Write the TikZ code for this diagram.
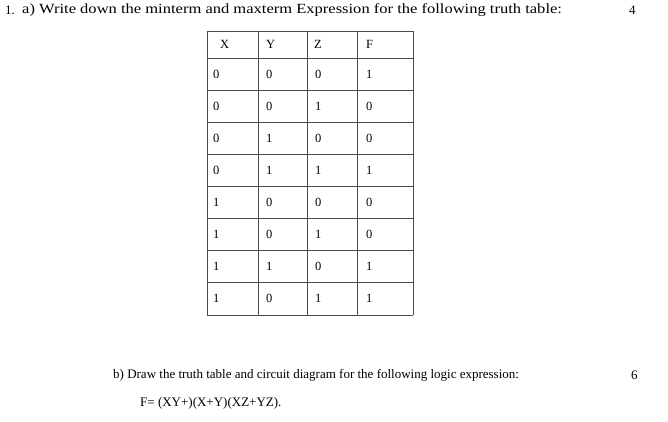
\documentclass[tikz,border=0pt]{standalone}
\usepackage{fontspec}
\setmainfont{Liberation Serif}
\begin{document}
\begin{tikzpicture}[x=1pt,y=-1pt,
  txt/.style={anchor=west,inner sep=0pt,font=\fontsize{13}{15}\selectfont},
  cell/.style={anchor=west,inner sep=0pt,font=\fontsize{12.5}{14}\selectfont},
  grid/.style={draw=black!70,line width=0.8pt}]
\useasboundingbox (0,0) rectangle (668,421);
\node[txt] (q1n) at (5,10) {1.};
\node[txt] (q1) at (22,10) {\fontsize{14}{16}\selectfont\scalebox{1.18}[1]{a)\ Write down the minterm and maxterm Expression for the following truth table:}};
\node[txt] (m1) at (629,10) {4};
\node[txt] (q2) at (113,375) {b) Draw the truth table and circuit diagram for the following logic expression:};
\node[txt] (m2) at (631,375) {6};
\node[txt] (ex) at (140,403) {F= (XY+)(X+Y)(XZ+YZ).};
% table grid
\foreach \x in {207,258,307,357,413} \draw[grid] (\x,31) -- (\x,315);
\draw[grid] (207,31) -- (413,31);
\foreach \y in {58,90,122,154,186,218,250,282,315} \draw[grid] (207,\y) -- (413,\y);
% header
\node[cell] (hx) at (220,44) {X};
\node[cell] (hy) at (266,44) {Y};
\node[cell] (hz) at (314,44) {Z};
\node[cell] (hf) at (366,44) {F};
\foreach \a/\b/\c/\d [count=\i] in {0/0/0/1,0/0/1/0,0/1/0/0,0/1/1/1,1/0/0/0,1/0/1/0,1/1/0/1,1/0/1/1}{
  \pgfmathsetmacro\yy{42+32*\i}
  \node[cell] (a\i) at (213,\yy) {\a};
  \node[cell] (b\i) at (266,\yy) {\b};
  \node[cell] (c\i) at (315,\yy) {\c};
  \node[cell] (d\i) at (366,\yy) {\d};
}
\end{tikzpicture}
\end{document}
